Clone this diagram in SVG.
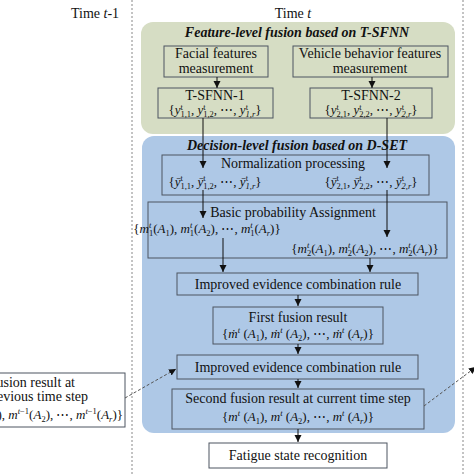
<svg xmlns="http://www.w3.org/2000/svg" width="474" height="474" viewBox="0 0 474 474">
<defs>
<marker id="ah" markerWidth="8" markerHeight="8" refX="7" refY="4" orient="auto" markerUnits="userSpaceOnUse">
<path d="M0,0.5 L7,4 L0,7.5 Z" fill="#111"/>
</marker>
<style>
text{font-family:"Liberation Serif","Times New Roman",serif;fill:#111;font-size:14px}
.t{text-anchor:middle}
.title{font-weight:bold;font-style:italic;text-anchor:middle}
.f{font-size:13px;text-anchor:middle}
.i{font-style:italic}
.s{font-size:8.5px}
.box{fill:none;stroke:#4d5560;stroke-width:1}
.wbox{fill:#fff;stroke:#4d5560;stroke-width:1}
.c{stroke:#111;stroke-width:1;fill:none;marker-end:url(#ah)}
.d{stroke:#555;stroke-width:1;fill:none;stroke-dasharray:3,2}
.v{stroke:#888;stroke-width:1;stroke-dasharray:2,2}
</style>
</defs>
<rect width="474" height="474" fill="#fff"/>
<line class="v" x1="132" y1="0" x2="132" y2="474"/>
<line class="v" x1="463" y1="0" x2="463" y2="474"/>
<text class="t" x="95" y="18">Time <tspan class="i">t</tspan>-1</text>
<text class="t" x="293" y="18">Time <tspan class="i">t</tspan></text>

<g id="feature-level">
<rect x="141" y="22" width="314" height="112" rx="12" fill="#d6ddc4"/>
<text class="title" x="297" y="37">Feature-level fusion based on T-SFNN</text>
</g>
<g id="decision-level">
<rect x="142" y="136" width="313" height="297" rx="12" fill="#aec8e6"/>
<text class="title" x="297" y="150">Decision-level fusion based on D-SET</text>
</g>

<g id="facial">
<rect class="box" x="164" y="46" width="104" height="31"/>
<text class="t" x="216" y="58">Facial features</text>
<text class="t" x="216" y="73">measurement</text>
</g>
<g id="vehicle">
<rect class="box" x="293" y="46" width="155" height="31"/>
<text class="t" x="370" y="58">Vehicle behavior features</text>
<text class="t" x="370" y="73">measurement</text>
</g>
<g id="tsfnn1">
<rect class="box" x="158" y="88" width="115" height="30"/>
<text class="t" x="215" y="99.5">T-SFNN-1</text>
<text class="f" x="215" y="114">{<tspan class="i">y</tspan><tspan class="s" dy="-4.5">t</tspan><tspan class="s" dx="-2.5" dy="7.5">1,1</tspan><tspan dy="-3">, </tspan><tspan class="i">y</tspan><tspan class="s" dy="-4.5">t</tspan><tspan class="s" dx="-2.5" dy="7.5">1,2</tspan><tspan dy="-3">, ⋯, </tspan><tspan class="i">y</tspan><tspan class="s" dy="-4.5">t</tspan><tspan class="s i" dx="-2.5" dy="7.5">1,r</tspan><tspan dy="-3">}</tspan></text>
</g>
<g id="tsfnn2">
<rect class="box" x="310" y="88" width="122" height="30"/>
<text class="t" x="371" y="99.5">T-SFNN-2</text>
<text class="f" x="371" y="114">{<tspan class="i">y</tspan><tspan class="s" dy="-4.5">t</tspan><tspan class="s" dx="-2.5" dy="7.5">2,1</tspan><tspan dy="-3">, </tspan><tspan class="i">y</tspan><tspan class="s" dy="-4.5">t</tspan><tspan class="s" dx="-2.5" dy="7.5">2,2</tspan><tspan dy="-3">, ⋯, </tspan><tspan class="i">y</tspan><tspan class="s" dy="-4.5">t</tspan><tspan class="s i" dx="-2.5" dy="7.5">2,r</tspan><tspan dy="-3">}</tspan></text>
</g>

<g id="normalization">
<rect class="box" x="162" y="155" width="267" height="40"/>
<text class="t" x="293" y="168">Normalization processing</text>
<text class="f" x="215" y="186">{<tspan class="i">ȳ</tspan><tspan class="s" dy="-5">t</tspan><tspan class="s" dx="-2.5" dy="8">1,1</tspan><tspan dy="-3">, </tspan><tspan class="i">ȳ</tspan><tspan class="s" dy="-5">t</tspan><tspan class="s" dx="-2.5" dy="8">1,2</tspan><tspan dy="-3">, ⋯, </tspan><tspan class="i">ȳ</tspan><tspan class="s" dy="-5">t</tspan><tspan class="s i" dx="-2.5" dy="8">1,r</tspan><tspan dy="-3">}</tspan></text>
<text class="f" x="371" y="186">{<tspan class="i">ȳ</tspan><tspan class="s" dy="-5">t</tspan><tspan class="s" dx="-2.5" dy="8">2,1</tspan><tspan dy="-3">, </tspan><tspan class="i">ȳ</tspan><tspan class="s" dy="-5">t</tspan><tspan class="s" dx="-2.5" dy="8">2,2</tspan><tspan dy="-3">, ⋯, </tspan><tspan class="i">ȳ</tspan><tspan class="s" dy="-5">t</tspan><tspan class="s i" dx="-2.5" dy="8">2,r</tspan><tspan dy="-3">}</tspan></text>
</g>

<g id="bpa">
<rect class="box" x="148" y="202" width="299" height="56"/>
<text class="t" x="293" y="217">Basic probability Assignment</text>
<text class="f" x="207" y="233">{<tspan class="i">m</tspan><tspan class="s i" dy="-5">t</tspan><tspan class="s" dx="-2.5" dy="8">1</tspan><tspan dy="-3">(</tspan><tspan class="i">A</tspan><tspan class="s" dy="3">1</tspan><tspan dy="-3">), </tspan><tspan class="i">m</tspan><tspan class="s i" dy="-5">t</tspan><tspan class="s" dx="-2.5" dy="8">1</tspan><tspan dy="-3">(</tspan><tspan class="i">A</tspan><tspan class="s" dy="3">2</tspan><tspan dy="-3">), ⋯, </tspan><tspan class="i">m</tspan><tspan class="s i" dy="-5">t</tspan><tspan class="s" dx="-2.5" dy="8">1</tspan><tspan dy="-3">(</tspan><tspan class="i">A</tspan><tspan class="s i" dy="3">r</tspan><tspan dy="-3">)}</tspan></text>
<text class="f" x="365" y="253">{<tspan class="i">m</tspan><tspan class="s i" dy="-5">t</tspan><tspan class="s" dx="-2.5" dy="8">2</tspan><tspan dy="-3">(</tspan><tspan class="i">A</tspan><tspan class="s" dy="3">1</tspan><tspan dy="-3">), </tspan><tspan class="i">m</tspan><tspan class="s i" dy="-5">t</tspan><tspan class="s" dx="-2.5" dy="8">2</tspan><tspan dy="-3">(</tspan><tspan class="i">A</tspan><tspan class="s" dy="3">2</tspan><tspan dy="-3">), ⋯, </tspan><tspan class="i">m</tspan><tspan class="s i" dy="-5">t</tspan><tspan class="s" dx="-2.5" dy="8">2</tspan><tspan dy="-3">(</tspan><tspan class="i">A</tspan><tspan class="s i" dy="3">r</tspan><tspan dy="-3">)}</tspan></text>
</g>

<g id="combine1">
<rect class="box" x="177" y="273" width="241" height="22"/>
<text class="t" x="298" y="288.5">Improved evidence combination rule</text>
</g>
<g id="first-fusion">
<rect class="box" x="213" y="307" width="170" height="37"/>
<text class="t" x="298" y="322">First fusion result</text>
<text class="f" x="298" y="338">{<tspan class="i">ṁ</tspan><tspan class="s i" dy="-5">t</tspan><tspan dy="5"> (</tspan><tspan class="i">A</tspan><tspan class="s" dy="3">1</tspan><tspan dy="-3">), </tspan><tspan class="i">ṁ</tspan><tspan class="s i" dy="-5">t</tspan><tspan dy="5"> (</tspan><tspan class="i">A</tspan><tspan class="s" dy="3">2</tspan><tspan dy="-3">), ⋯, </tspan><tspan class="i">ṁ</tspan><tspan class="s i" dy="-5">t</tspan><tspan dy="5"> (</tspan><tspan class="i">A</tspan><tspan class="s i" dy="3">r</tspan><tspan dy="-3">)}</tspan></text>
</g>
<g id="combine2">
<rect class="box" x="177" y="355" width="241" height="24"/>
<text class="t" x="298" y="372">Improved evidence combination rule</text>
</g>
<g id="second-fusion">
<rect class="box" x="172" y="389" width="252" height="40"/>
<text class="t" x="298" y="403">Second fusion result at current time step</text>
<text class="f" x="298" y="421">{<tspan class="i">m</tspan><tspan class="s i" dy="-5">t</tspan><tspan dy="5"> (</tspan><tspan class="i">A</tspan><tspan class="s" dy="3">1</tspan><tspan dy="-3">), </tspan><tspan class="i">m</tspan><tspan class="s i" dy="-5">t</tspan><tspan dy="5"> (</tspan><tspan class="i">A</tspan><tspan class="s" dy="3">2</tspan><tspan dy="-3">), ⋯, </tspan><tspan class="i">m</tspan><tspan class="s i" dy="-5">t</tspan><tspan dy="5"> (</tspan><tspan class="i">A</tspan><tspan class="s i" dy="3">r</tspan><tspan dy="-3">)}</tspan></text>
</g>
<g id="fatigue">
<rect class="wbox" x="209" y="443" width="178" height="25"/>
<text class="t" x="298" y="460">Fatigue state recognition</text>
</g>
<g id="previous">
<rect class="wbox" x="-10" y="373" width="135" height="54"/>
<text x="75" y="387" style="text-anchor:end">Fusion result at</text>
<text x="88" y="401" style="text-anchor:end">previous time step</text>
<text class="f" x="123" y="419" style="text-anchor:end">{<tspan class="i">m</tspan><tspan class="s" dy="-5"><tspan class="i">t</tspan>−1</tspan><tspan dy="5">(</tspan><tspan class="i">A</tspan><tspan class="s" dy="3">1</tspan><tspan dy="-3">), </tspan><tspan class="i">m</tspan><tspan class="s" dy="-5"><tspan class="i">t</tspan>−1</tspan><tspan dy="5">(</tspan><tspan class="i">A</tspan><tspan class="s" dy="3">2</tspan><tspan dy="-3">), ⋯, </tspan><tspan class="i">m</tspan><tspan class="s" dy="-5"><tspan class="i">t</tspan>−1</tspan><tspan dy="5">(</tspan><tspan class="i">A</tspan><tspan class="s i" dy="3">r</tspan><tspan dy="-3">)}</tspan></text>
</g>

<g id="connectors">
<line class="c" x1="217" y1="77" x2="217" y2="88"/>
<line class="c" x1="372" y1="77" x2="372" y2="88"/>
<line class="c" x1="203" y1="118" x2="203" y2="168"/>
<line class="c" x1="387" y1="118" x2="387" y2="168"/>
<line class="c" x1="203" y1="190" x2="203" y2="218"/>
<line class="c" x1="387" y1="190" x2="387" y2="237"/>
<line class="c" x1="223" y1="238" x2="223" y2="272"/>
<line class="c" x1="370" y1="258" x2="370" y2="272"/>
<line class="c" x1="298" y1="295" x2="298" y2="306"/>
<line class="c" x1="298" y1="344" x2="298" y2="354"/>
<line class="c" x1="298" y1="379" x2="298" y2="388"/>
<line class="c" x1="298" y1="429" x2="298" y2="442"/>
<line class="d" x1="125" y1="398" x2="176" y2="369" marker-end="url(#ah)"/>
<line class="d" x1="424" y1="406" x2="476" y2="367" marker-end="url(#ah)"/>
</g>
</svg>
